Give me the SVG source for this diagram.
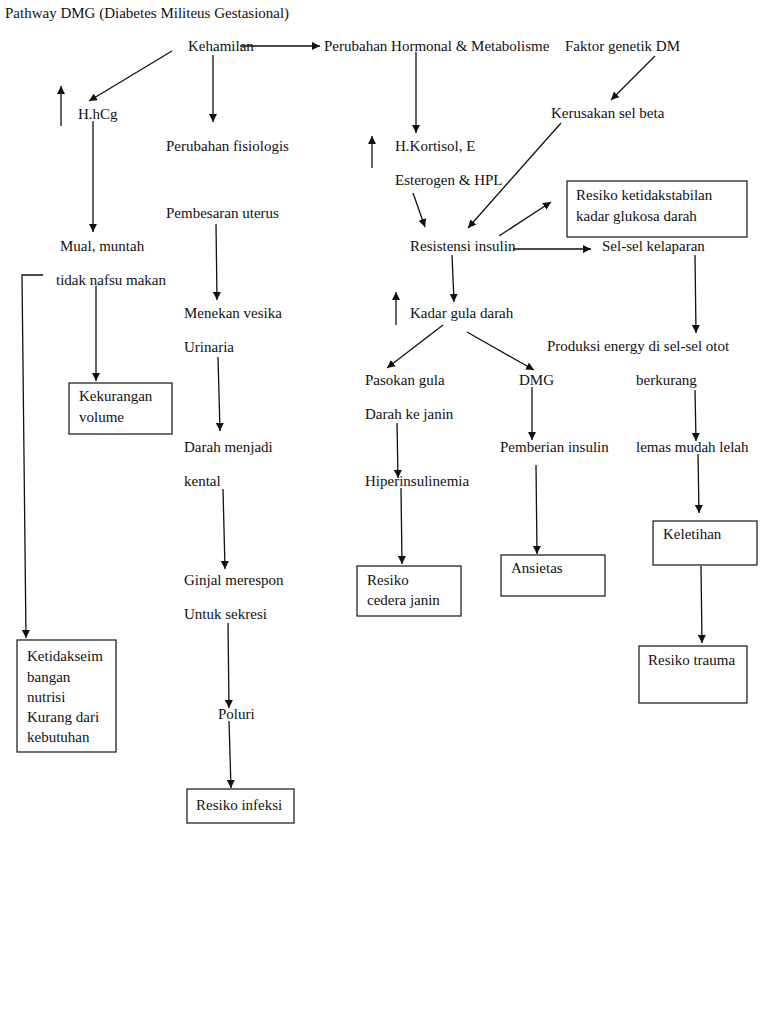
<svg xmlns="http://www.w3.org/2000/svg" width="768" height="1024" viewBox="0 0 768 1024">
<style>
text{font-family:"Liberation Serif","Times New Roman",serif;font-size:15px;fill:#111}
.c line,.c polyline{stroke:#111;stroke-width:1.3;fill:none}
.box{fill:#fff;stroke:#111;stroke-width:1.2}
</style>
<defs>
<marker id="ah" markerUnits="userSpaceOnUse" markerWidth="9" markerHeight="8" refX="8" refY="4" orient="auto">
<path d="M0,0 L8,4 L0,8 Z" fill="#111"/>
</marker>
</defs>
<rect width="768" height="1024" fill="#fff"/>
<text x="5" y="18">Pathway DMG (Diabetes Militeus Gestasional)</text>

<g id="kehamilan"><text x="188" y="51">Kehamilan</text></g>
<g id="hormonal"><text x="324" y="51">Perubahan Hormonal &amp; Metabolisme</text></g>
<g id="faktor"><text x="565" y="51">Faktor genetik DM</text></g>
<g id="hhcg"><text x="78" y="119">H.hCg</text></g>
<g id="fisiologis"><text x="166" y="151">Perubahan fisiologis</text></g>
<g id="kerusakan"><text x="551" y="118">Kerusakan sel beta</text></g>
<g id="kortisol"><text x="395" y="151">H.Kortisol, E</text><text x="395" y="185">Esterogen &amp; HPL</text></g>
<g id="pembesaran"><text x="166" y="218">Pembesaran uterus</text></g>
<g id="mual"><text x="60" y="251">Mual, muntah</text><text x="56" y="285">tidak nafsu makan</text></g>
<g id="resiko-glukosa"><rect class="box" x="567" y="181" width="180" height="56"/><text x="576" y="200">Resiko ketidakstabilan</text><text x="576" y="221">kadar glukosa darah</text></g>
<g id="resistensi"><text x="410" y="251">Resistensi insulin</text></g>
<g id="selsel"><text x="602" y="251">Sel-sel kelaparan</text></g>
<g id="menekan"><text x="184" y="318">Menekan vesika</text><text x="184" y="352">Urinaria</text></g>
<g id="kadar"><text x="410" y="318">Kadar gula darah</text></g>
<g id="produksi"><text x="547" y="351">Produksi energy di sel-sel otot</text><text x="636" y="385">berkurang</text></g>
<g id="kekurangan"><rect class="box" x="69" y="383" width="103" height="51"/><text x="79" y="401">Kekurangan</text><text x="79" y="422">volume</text></g>
<g id="pasokan"><text x="365" y="385">Pasokan gula</text><text x="365" y="419">Darah ke janin</text></g>
<g id="dmg"><text x="519" y="385">DMG</text></g>
<g id="darah"><text x="184" y="452">Darah menjadi</text><text x="184" y="486">kental</text></g>
<g id="pemberian"><text x="500" y="452">Pemberian insulin</text></g>
<g id="lemas"><text x="636" y="452">lemas mudah lelah</text></g>
<g id="hiper"><text x="365" y="486">Hiperinsulinemia</text></g>
<g id="keletihan"><rect class="box" x="653" y="521" width="104" height="44"/><text x="663" y="539">Keletihan</text></g>
<g id="ansietas"><rect class="box" x="501" y="555" width="104" height="41"/><text x="511" y="573">Ansietas</text></g>
<g id="cedera"><rect class="box" x="357" y="566" width="104" height="50"/><text x="367" y="585">Resiko</text><text x="367" y="605">cedera janin</text></g>
<g id="ginjal"><text x="184" y="585">Ginjal merespon</text><text x="184" y="619">Untuk sekresi</text></g>
<g id="ketidakseimbangan"><rect class="box" x="17" y="640" width="99" height="112"/><text x="27" y="661">Ketidakseim</text><text x="27" y="682">bangan</text><text x="27" y="702">nutrisi</text><text x="27" y="722">Kurang dari</text><text x="27" y="742">kebutuhan</text></g>
<g id="trauma"><rect class="box" x="639" y="646" width="108" height="57"/><text x="648" y="665">Resiko trauma</text></g>
<g id="poluri"><text x="218" y="719">Poluri</text></g>
<g id="infeksi"><rect class="box" x="187" y="789" width="107" height="34"/><text x="196" y="810">Resiko infeksi</text></g>

<g class="c" id="connectors">
<line x1="240" y1="46" x2="320" y2="46" marker-end="url(#ah)"/>
<line x1="172" y1="51" x2="89" y2="101" marker-end="url(#ah)"/>
<line x1="61" y1="126" x2="61" y2="86" marker-end="url(#ah)"/>
<line x1="213" y1="55" x2="213" y2="122" marker-end="url(#ah)"/>
<line x1="93" y1="121" x2="93" y2="232" marker-end="url(#ah)"/>
<line x1="216" y1="224" x2="217" y2="300" marker-end="url(#ah)"/>
<polyline points="43,275 22,275 26,638" marker-end="url(#ah)"/>
<line x1="96" y1="286" x2="96" y2="381" marker-end="url(#ah)"/>
<line x1="218" y1="357" x2="220" y2="431" marker-end="url(#ah)"/>
<line x1="223" y1="489" x2="225" y2="569" marker-end="url(#ah)"/>
<line x1="228" y1="623" x2="229" y2="708" marker-end="url(#ah)"/>
<line x1="229" y1="721" x2="231" y2="788" marker-end="url(#ah)"/>
<line x1="416" y1="52" x2="416" y2="133" marker-end="url(#ah)"/>
<line x1="655" y1="56" x2="611" y2="100" marker-end="url(#ah)"/>
<line x1="372" y1="168" x2="372" y2="136" marker-end="url(#ah)"/>
<line x1="413" y1="193" x2="425" y2="227" marker-end="url(#ah)"/>
<line x1="561" y1="123" x2="468" y2="228" marker-end="url(#ah)"/>
<line x1="499" y1="236" x2="551" y2="202" marker-end="url(#ah)"/>
<line x1="513" y1="249" x2="591" y2="249" marker-end="url(#ah)"/>
<line x1="452" y1="255" x2="454" y2="302" marker-end="url(#ah)"/>
<line x1="396" y1="325" x2="396" y2="292" marker-end="url(#ah)"/>
<line x1="695" y1="255" x2="696" y2="333" marker-end="url(#ah)"/>
<line x1="443" y1="325" x2="387" y2="368" marker-end="url(#ah)"/>
<line x1="467" y1="332" x2="534" y2="370" marker-end="url(#ah)"/>
<line x1="397" y1="423" x2="398" y2="478" marker-end="url(#ah)"/>
<line x1="532" y1="387" x2="532" y2="440" marker-end="url(#ah)"/>
<line x1="695" y1="390" x2="696" y2="441" marker-end="url(#ah)"/>
<line x1="698" y1="454" x2="699" y2="513" marker-end="url(#ah)"/>
<line x1="401" y1="488" x2="402" y2="564" marker-end="url(#ah)"/>
<line x1="536" y1="465" x2="537" y2="554" marker-end="url(#ah)"/>
<line x1="701" y1="566" x2="702" y2="643" marker-end="url(#ah)"/>
</g>
</svg>
